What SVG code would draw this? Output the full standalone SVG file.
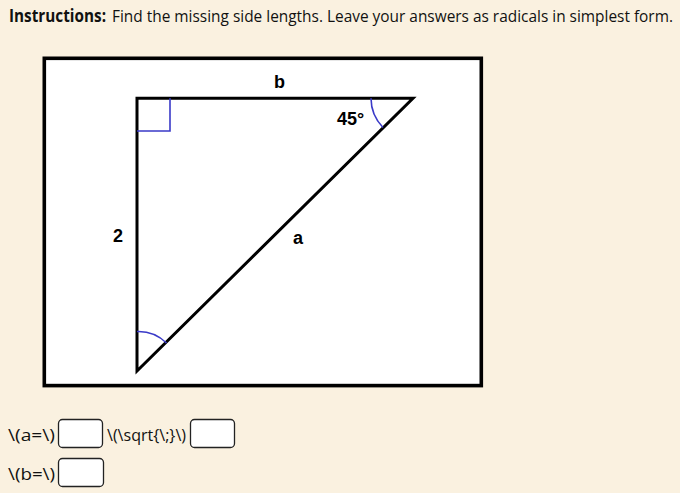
<svg xmlns="http://www.w3.org/2000/svg" width="680" height="493" viewBox="0 0 680 493">
<style>
.t{font-family:"Open Sans","Noto Sans","DejaVu Sans",sans-serif;fill:#111}
.lbl{font-family:"Liberation Sans",Arial,sans-serif;font-weight:bold;font-size:18px;fill:#000}
.box{fill:#fff;stroke:#222;stroke-width:1.3}
.blue{fill:none;stroke:#3a3ac8;stroke-width:1.6}
</style>
<rect width="680" height="493" fill="#faf1e0"/>
<text class="t" x="9" y="22" font-size="17" font-weight="bold" textLength="97" lengthAdjust="spacingAndGlyphs">Instructions:</text>
<text class="t" x="112" y="22" font-size="17" textLength="561" lengthAdjust="spacingAndGlyphs">Find the missing side lengths. Leave your answers as radicals in simplest form.</text>
<g id="figure">
<rect x="44.3" y="58.3" width="437" height="327.3" fill="#fff" stroke="#000" stroke-width="3.6"/>
<g id="triangle">
<polygon points="137,98.3 413,98.3 137,371" fill="none" stroke="#000" stroke-width="3" stroke-linejoin="miter"/>
<polyline class="blue" points="137,131 170,131 170,98.3"/>
<path class="blue" d="M371,98.3 A42,42 0 0 0 383,127.5"/>
<path class="blue" d="M137,331.5 A40,40 0 0 1 166.5,343"/>
</g>
<text class="lbl" x="279.5" y="88" text-anchor="middle">b</text>
<text class="lbl" x="337" y="125">45°</text>
<text class="lbl" x="118" y="242" text-anchor="middle">2</text>
<text class="lbl" x="298" y="244" text-anchor="middle">a</text>
</g>
<g id="answers">
<text class="t" x="8" y="441" font-size="16" textLength="47" lengthAdjust="spacingAndGlyphs">\(a=\)</text>
<rect class="box" x="58.5" y="419.5" width="44" height="28" rx="4"/>
<text class="t" x="107" y="441" font-size="16" textLength="79" lengthAdjust="spacingAndGlyphs">\(\sqrt{\;}\)</text>
<rect class="box" x="190.5" y="419.5" width="44" height="28" rx="4"/>
<text class="t" x="8" y="480" font-size="16" textLength="47" lengthAdjust="spacingAndGlyphs">\(b=\)</text>
<rect class="box" x="58.5" y="458.5" width="45" height="28" rx="4"/>
</g>
</svg>
